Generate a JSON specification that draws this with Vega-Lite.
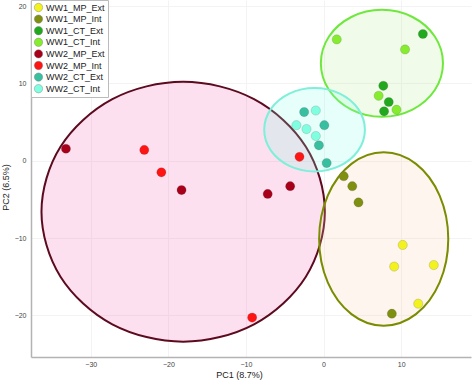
{
  "$schema": "https://vega.github.io/schema/vega-lite/v6.json",
  "width": 440,
  "height": 357,
  "autosize": {"type": "none"},
  "padding": {"left": 31, "top": 0, "right": 3, "bottom": 27},
  "background": "white",
  "config": {
    "view": {"stroke": null},
    "font": "Liberation Sans",
    "axis": {
      "domainColor": "#b3b3b3",
      "domainWidth": 1.5,
      "ticks": false,
      "grid": true,
      "gridColor": "#f3f3f3",
      "gridWidth": 1,
      "labelFontSize": 7,
      "labelColor": "#444444",
      "titleFontSize": 9,
      "titleFontWeight": "normal",
      "titleColor": "#222222"
    }
  },
  "datasets": {
    "points": [
      {"group": "WW1_MP_Ext", "pc1": 10.2, "pc2": -10.9},
      {"group": "WW1_MP_Ext", "pc1": 9.1, "pc2": -13.7},
      {"group": "WW1_MP_Ext", "pc1": 14.2, "pc2": -13.5},
      {"group": "WW1_MP_Ext", "pc1": 12.2, "pc2": -18.5},
      {"group": "WW1_MP_Int", "pc1": 2.6, "pc2": -2.0},
      {"group": "WW1_MP_Int", "pc1": 3.7, "pc2": -3.3},
      {"group": "WW1_MP_Int", "pc1": 4.5, "pc2": -5.4},
      {"group": "WW1_MP_Int", "pc1": 8.8, "pc2": -19.8},
      {"group": "WW1_CT_Ext", "pc1": 12.8, "pc2": 16.4},
      {"group": "WW1_CT_Ext", "pc1": 7.7, "pc2": 9.7},
      {"group": "WW1_CT_Ext", "pc1": 8.4, "pc2": 7.6},
      {"group": "WW1_CT_Ext", "pc1": 7.8, "pc2": 6.4},
      {"group": "WW1_CT_Int", "pc1": 1.7, "pc2": 15.7},
      {"group": "WW1_CT_Int", "pc1": 10.5, "pc2": 14.4},
      {"group": "WW1_CT_Int", "pc1": 7.1, "pc2": 8.4},
      {"group": "WW1_CT_Int", "pc1": 9.4, "pc2": 6.6},
      {"group": "WW2_MP_Ext", "pc1": -33.2, "pc2": 1.55},
      {"group": "WW2_MP_Ext", "pc1": -18.3, "pc2": -3.8},
      {"group": "WW2_MP_Ext", "pc1": -7.2, "pc2": -4.3},
      {"group": "WW2_MP_Ext", "pc1": -4.3, "pc2": -3.3},
      {"group": "WW2_MP_Int", "pc1": -23.1, "pc2": 1.4},
      {"group": "WW2_MP_Int", "pc1": -20.9, "pc2": -1.5},
      {"group": "WW2_MP_Int", "pc1": -3.1, "pc2": 0.5},
      {"group": "WW2_MP_Int", "pc1": -9.2, "pc2": -20.3},
      {"group": "WW2_CT_Ext", "pc1": -2.5, "pc2": 6.3},
      {"group": "WW2_CT_Ext", "pc1": 0.1, "pc2": 4.6},
      {"group": "WW2_CT_Ext", "pc1": -0.6, "pc2": 2.0},
      {"group": "WW2_CT_Ext", "pc1": 0.4, "pc2": -0.3},
      {"group": "WW2_CT_Int", "pc1": -1.0, "pc2": 6.5},
      {"group": "WW2_CT_Int", "pc1": -3.5, "pc2": 4.6},
      {"group": "WW2_CT_Int", "pc1": -2.2, "pc2": 4.1},
      {"group": "WW2_CT_Int", "pc1": -1.0, "pc2": 3.2}
    ],
    "ellipses": [
      {"set": "WW2_MP", "i": 0, "pc1": 0.17, "pc2": -6.6},
      {"set": "WW2_MP", "i": 1, "pc1": -2.28, "pc2": 1.81},
      {"set": "WW2_MP", "i": 2, "pc1": -8.96, "pc2": 7.97},
      {"set": "WW2_MP", "i": 3, "pc1": -18.09, "pc2": 10.22},
      {"set": "WW2_MP", "i": 4, "pc1": -27.22, "pc2": 7.97},
      {"set": "WW2_MP", "i": 5, "pc1": -33.9, "pc2": 1.81},
      {"set": "WW2_MP", "i": 6, "pc1": -36.35, "pc2": -6.6},
      {"set": "WW2_MP", "i": 7, "pc1": -33.9, "pc2": -15.01},
      {"set": "WW2_MP", "i": 8, "pc1": -27.22, "pc2": -21.17},
      {"set": "WW2_MP", "i": 9, "pc1": -18.09, "pc2": -23.42},
      {"set": "WW2_MP", "i": 10, "pc1": -8.96, "pc2": -21.17},
      {"set": "WW2_MP", "i": 11, "pc1": -2.28, "pc2": -15.01},
      {"set": "WW1_MP", "i": 0, "pc1": 16.07, "pc2": -10.13},
      {"set": "WW1_MP", "i": 1, "pc1": 14.96, "pc2": -4.52},
      {"set": "WW1_MP", "i": 2, "pc1": 11.91, "pc2": -0.41},
      {"set": "WW1_MP", "i": 3, "pc1": 7.75, "pc2": 1.09},
      {"set": "WW1_MP", "i": 4, "pc1": 3.59, "pc2": -0.41},
      {"set": "WW1_MP", "i": 5, "pc1": 0.54, "pc2": -4.52},
      {"set": "WW1_MP", "i": 6, "pc1": -0.57, "pc2": -10.13},
      {"set": "WW1_MP", "i": 7, "pc1": 0.54, "pc2": -15.74},
      {"set": "WW1_MP", "i": 8, "pc1": 3.59, "pc2": -19.85},
      {"set": "WW1_MP", "i": 9, "pc1": 7.75, "pc2": -21.35},
      {"set": "WW1_MP", "i": 10, "pc1": 11.91, "pc2": -19.85},
      {"set": "WW1_MP", "i": 11, "pc1": 14.96, "pc2": -15.74},
      {"set": "WW1_CT", "i": 0, "pc1": 15.39, "pc2": 12.61},
      {"set": "WW1_CT", "i": 1, "pc1": 14.34, "pc2": 16.07},
      {"set": "WW1_CT", "i": 2, "pc1": 11.46, "pc2": 18.6},
      {"set": "WW1_CT", "i": 3, "pc1": 7.52, "pc2": 19.53},
      {"set": "WW1_CT", "i": 4, "pc1": 3.58, "pc2": 18.6},
      {"set": "WW1_CT", "i": 5, "pc1": 0.7, "pc2": 16.07},
      {"set": "WW1_CT", "i": 6, "pc1": -0.35, "pc2": 12.61},
      {"set": "WW1_CT", "i": 7, "pc1": 0.7, "pc2": 9.15},
      {"set": "WW1_CT", "i": 8, "pc1": 3.58, "pc2": 6.62},
      {"set": "WW1_CT", "i": 9, "pc1": 7.52, "pc2": 5.69},
      {"set": "WW1_CT", "i": 10, "pc1": 11.46, "pc2": 6.62},
      {"set": "WW1_CT", "i": 11, "pc1": 14.34, "pc2": 9.15},
      {"set": "WW2_CT", "i": 0, "pc1": 5.33, "pc2": 4.01},
      {"set": "WW2_CT", "i": 1, "pc1": 4.46, "pc2": 6.71},
      {"set": "WW2_CT", "i": 2, "pc1": 2.09, "pc2": 8.68},
      {"set": "WW2_CT", "i": 3, "pc1": -1.16, "pc2": 9.4},
      {"set": "WW2_CT", "i": 4, "pc1": -4.41, "pc2": 8.68},
      {"set": "WW2_CT", "i": 5, "pc1": -6.78, "pc2": 6.71},
      {"set": "WW2_CT", "i": 6, "pc1": -7.65, "pc2": 4.01},
      {"set": "WW2_CT", "i": 7, "pc1": -6.78, "pc2": 1.31},
      {"set": "WW2_CT", "i": 8, "pc1": -4.41, "pc2": -0.66},
      {"set": "WW2_CT", "i": 9, "pc1": -1.16, "pc2": -1.38},
      {"set": "WW2_CT", "i": 10, "pc1": 2.09, "pc2": -0.66},
      {"set": "WW2_CT", "i": 11, "pc1": 4.46, "pc2": 1.31}
    ]
  },
  "layer": [
    {
      "data": {"name": "ellipses"},
      "mark": {"type": "line", "interpolate": "cardinal-closed", "strokeWidth": 2, "fillOpacity": 0.2, "clip": true},
      "encoding": {
        "x": {"field": "pc1", "type": "quantitative", "scale": {"domain": [-37.7, 19], "nice": false, "zero": false}, "axis": {"title": "PC1 (8.7%)", "values": [-30, -20, -10, 0, 10], "labelPadding": 3, "titlePadding": 3, "titleX": 208}},
        "y": {"field": "pc2", "type": "quantitative", "scale": {"domain": [-25.4, 20.8], "nice": false, "zero": false}, "axis": {"title": "PC2 (6.5%)", "values": [-20, -10, 0, 10, 20], "labelPadding": 5, "titlePadding": 4, "titleY": 187}},
        "order": {"field": "i", "type": "quantitative"},
        "detail": {"field": "set", "type": "nominal"},
        "stroke": {"field": "set", "type": "nominal", "legend": null, "scale": {"domain": ["WW2_MP", "WW1_MP", "WW1_CT", "WW2_CT"], "range": ["#5c0a1e", "#7a8c00", "#6ee83c", "#7eefd8"]}},
        "fill": {"field": "set", "type": "nominal", "legend": null, "scale": {"domain": ["WW2_MP", "WW1_MP", "WW1_CT", "WW2_CT"], "range": ["#f564b4", "#fad2a8", "#b4f090", "#80ffe8"]}}
      }
    },
    {
      "data": {"name": "points"},
      "mark": {"type": "circle", "size": 85, "opacity": 1, "stroke": "#555555", "strokeWidth": 0.4, "strokeOpacity": 0.5},
      "encoding": {
        "x": {"field": "pc1", "type": "quantitative"},
        "y": {"field": "pc2", "type": "quantitative"},
        "color": {
          "field": "group", "type": "nominal",
          "scale": {
            "domain": ["WW1_MP_Ext", "WW1_MP_Int", "WW1_CT_Ext", "WW1_CT_Int", "WW2_MP_Ext", "WW2_MP_Int", "WW2_CT_Ext", "WW2_CT_Int"],
            "range": ["#f2f21e", "#7f8f10", "#22a81c", "#86ec2e", "#a8001a", "#ff1414", "#37bfa0", "#80ffe0"]
          },
          "legend": {
            "title": null,
            "orient": "top-left",
            "offset": 0,
            "padding": 3,
            "fillColor": "white",
            "strokeColor": "#bbbbbb",
            "symbolSize": 70,
            "symbolStrokeColor": "#777777",
            "symbolStrokeWidth": 0.4,
            "labelFontSize": 9,
            "labelColor": "#222222",
            "labelOffset": 3,
            "rowPadding": 0.6
          }
        }
      }
    }
  ],
  "resolve": {"scale": {"color": "independent"}}
}
